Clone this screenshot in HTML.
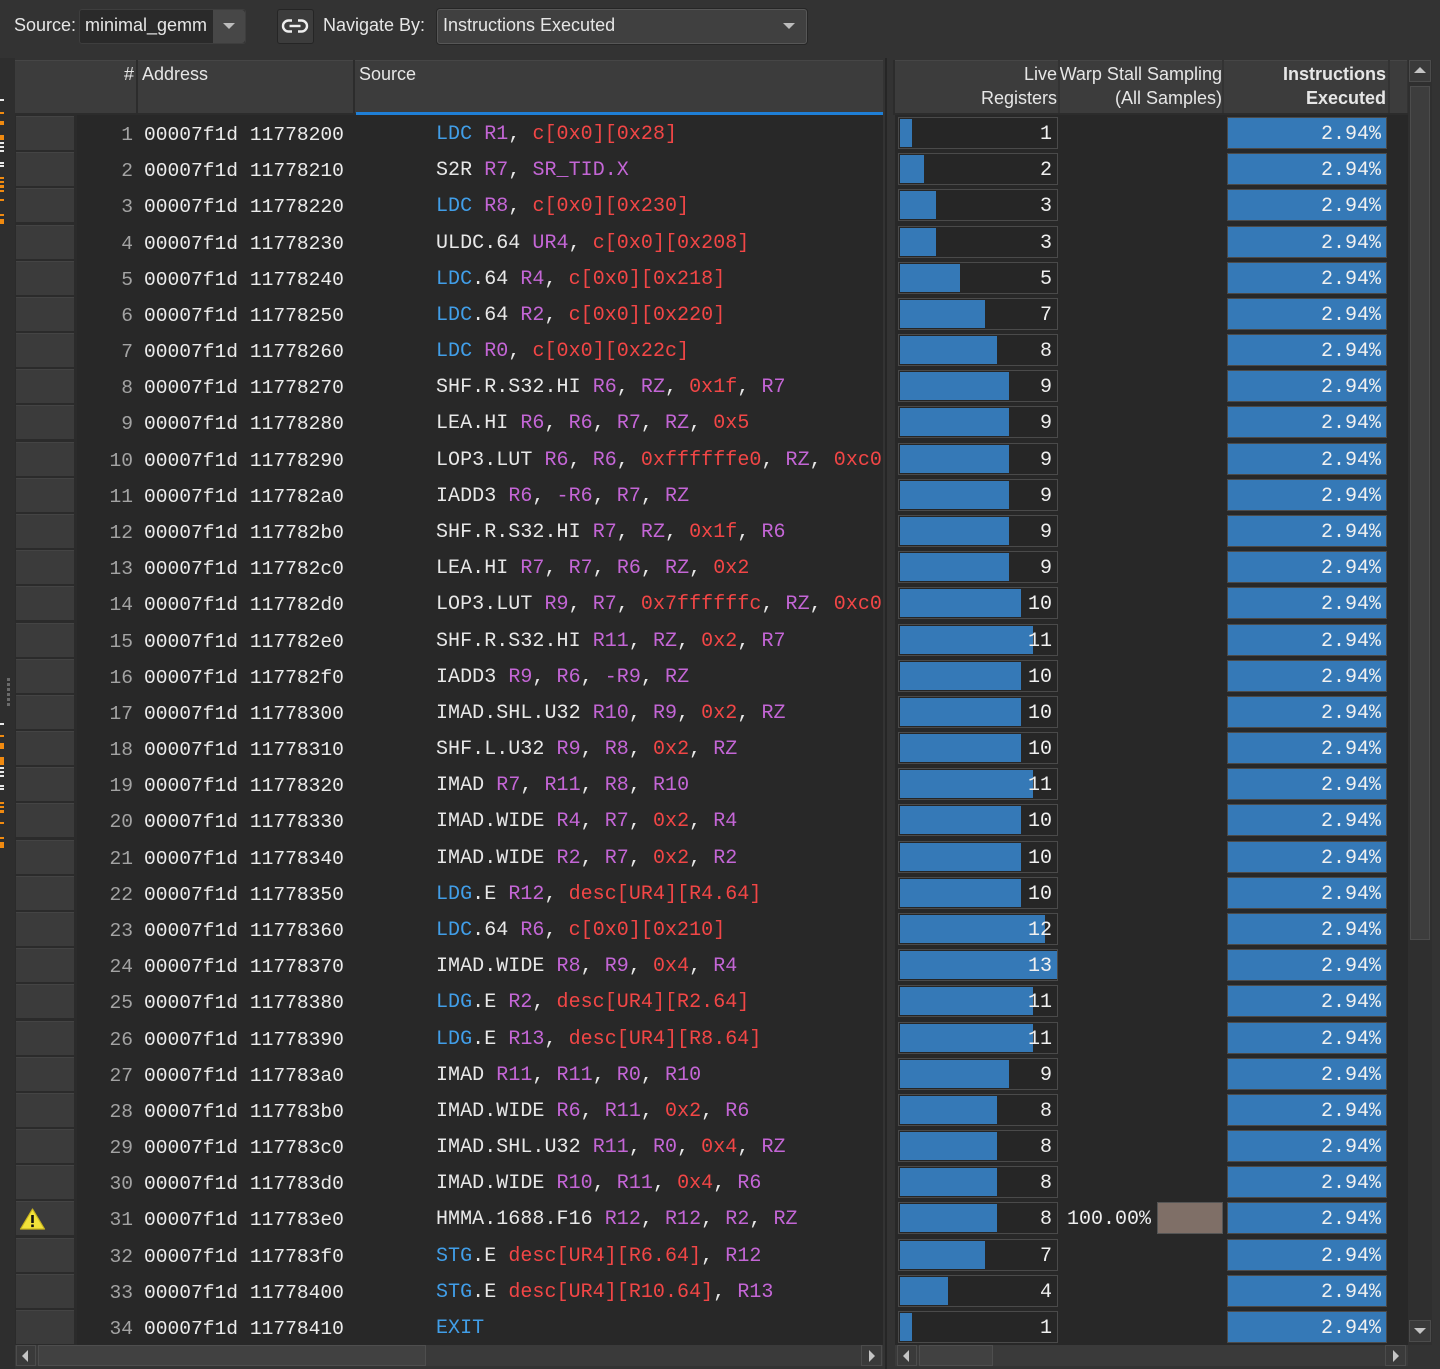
<!DOCTYPE html>
<html><head><meta charset="utf-8">
<style>
*{margin:0;padding:0;box-sizing:border-box}
html,body{width:1440px;height:1369px;overflow:hidden;background:#333333}
body{position:relative;font-family:"Liberation Sans",sans-serif;color:#e4e4e4}
.abs{position:absolute}
.ui{font-size:18px;line-height:22px;color:#e6e6e6;white-space:nowrap}
.mono{font-family:"Liberation Mono",monospace}
.row{position:absolute;left:0;width:100%;height:36.18px}
.vh{position:absolute;left:1px;top:1px;width:58px;height:34px;background:#3b3b3b;border-top:1px solid #444}
.n{position:absolute;left:60px;width:58px;text-align:right;top:2px;line-height:36px;font-family:"Liberation Mono",monospace;font-size:19.6px;color:#a3a3a3}
.a{position:absolute;left:129px;top:2px;line-height:36px;font-family:"Liberation Mono",monospace;font-size:19.6px;color:#ececec;white-space:pre}
.s{position:absolute;left:421px;top:2px;line-height:36px;font-family:"Liberation Mono",monospace;font-size:20px;letter-spacing:0.05px;color:#e8e8e8;white-space:pre}
.b{color:#419ee8}.p{color:#c466d6}.r{color:#f24646}
.lv{position:absolute;left:3px;top:2px;width:160px;height:32px;border:1px solid #4a4a4a;background:#262626}
.lv i{position:absolute;left:1px;top:1px;height:28px;background:#3579b7}
.lv span,.ie span{position:absolute;right:5px;top:0px;line-height:34px;font-family:"Liberation Mono",monospace;font-size:20px;color:#f0f0f0}
.ie{position:absolute;left:332px;top:2px;width:160px;height:32px;border:1px solid #4a4a4a;background:#3579b7}
.hd{position:absolute;top:60px;height:53px;background:#3c3c3c;border-top:1px solid #464646}
.mk{position:absolute;left:0;width:4px}
.o{background:#f08a10}.w{background:#e8e8e8}
.btn{position:absolute;background:#3a3a3a;border:1px solid #4c4c4c}
</style></head><body>

<!-- toolbar -->
<div class="abs ui" style="left:14px;top:14px">Source:</div>
<div class="abs" style="left:79px;top:9px;width:167px;height:35px;background:#2a2a2a;border:1px solid #3e3e3e;border-radius:3px"></div>
<div class="abs ui" style="left:85px;top:14px">minimal_gemm</div>
<div class="abs" style="left:213px;top:10px;width:32px;height:33px;background:#474747;border-radius:0 3px 3px 0"></div>
<div class="abs" style="left:223px;top:23px;width:0;height:0;border-left:6px solid transparent;border-right:6px solid transparent;border-top:6px solid #bcbcbc"></div>

<div class="abs" style="left:277px;top:9px;width:37px;height:35px;background:#3c3c3c;border:1px solid #252525;border-radius:3px"></div>
<svg class="abs" style="left:281px;top:14px" width="28" height="24" viewBox="0 0 28 24">
<path d="M11 6.5H7.5a5.5 5.5 0 0 0 0 11H11" fill="none" stroke="#eeeeee" stroke-width="2.4"/>
<path d="M17 6.5h3.5a5.5 5.5 0 0 1 0 11H17" fill="none" stroke="#eeeeee" stroke-width="2.4"/>
<path d="M8.5 12h11" stroke="#eeeeee" stroke-width="2.4"/>
</svg>
<div class="abs ui" style="left:323px;top:14px">Navigate By:</div>
<div class="abs" style="left:437px;top:9px;width:370px;height:35px;background:#404040;border:1px solid #575757;border-radius:3px;box-shadow:0 0 0 1px #262626"></div>
<div class="abs ui" style="left:443px;top:14px">Instructions Executed</div>
<div class="abs" style="left:783px;top:23px;width:0;height:0;border-left:6px solid transparent;border-right:6px solid transparent;border-top:6px solid #bcbcbc"></div>

<!-- left strip -->
<div class="abs" style="left:0;top:58px;width:15px;height:1311px;background:#2e2e2e"></div>
<div class="mk w" style="top:99px;height:2px"></div>
<div class="mk o" style="top:112px;height:2px"></div>
<div class="mk o" style="top:121px;height:4px"></div>
<div class="mk o" style="top:135px;height:5px"></div>
<div class="mk w" style="top:142px;height:2px"></div>
<div class="mk w" style="top:146px;height:2px"></div>
<div class="mk w" style="top:150px;height:2px"></div>
<div class="mk w" style="top:162px;height:2px"></div>
<div class="mk w" style="top:165px;height:2px"></div>
<div class="mk o" style="top:177px;height:2px"></div>
<div class="mk o" style="top:181px;height:2px"></div>
<div class="mk o" style="top:185px;height:3px"></div>
<div class="mk o" style="top:190px;height:2px"></div>
<div class="mk o" style="top:199px;height:2px"></div>
<div class="mk o" style="top:214px;height:2px"></div>
<div class="mk o" style="top:219px;height:5px"></div>
<div class="abs" style="left:7px;top:678px;width:3px;height:28px;background:repeating-linear-gradient(#6a6a6a 0 3px,transparent 3px 5px)"></div>
<div class="mk w" style="top:723px;height:2px"></div>
<div class="mk o" style="top:735px;height:2px"></div>
<div class="mk o" style="top:743px;height:6px"></div>
<div class="mk o" style="top:757px;height:8px"></div>
<div class="mk w" style="top:767px;height:2px"></div>
<div class="mk w" style="top:771px;height:2px"></div>
<div class="mk w" style="top:775px;height:2px"></div>
<div class="mk w" style="top:785px;height:2px"></div>
<div class="mk w" style="top:788px;height:2px"></div>
<div class="mk o" style="top:802px;height:2px"></div>
<div class="mk o" style="top:806px;height:2px"></div>
<div class="mk o" style="top:810px;height:3px"></div>
<div class="mk o" style="top:822px;height:2px"></div>
<div class="mk o" style="top:837px;height:2px"></div>
<div class="mk o" style="top:842px;height:6px"></div>

<!-- left header -->
<div class="hd" style="left:15px;width:121px"></div>
<div class="hd" style="left:138px;width:215px"></div>
<div class="hd" style="left:355px;width:528px"></div>
<div class="abs" style="left:136px;top:60px;width:2px;height:53px;background:#2c2c2c"></div>
<div class="abs" style="left:353px;top:60px;width:2px;height:53px;background:#2c2c2c"></div>
<div class="abs ui" style="left:124px;top:63px">#</div>
<div class="abs ui" style="left:142px;top:63px">Address</div>
<div class="abs ui" style="left:359px;top:63px">Source</div>
<div class="abs" style="left:356px;top:112px;width:527px;height:3px;background:#1f7fd6"></div>
<div class="abs" style="left:15px;top:113px;width:341px;height:2px;background:#2c2c2c"></div>

<!-- splitter -->
<div class="abs" style="left:883px;top:58px;width:10px;height:1311px;background:#333"></div>
<div class="abs" style="left:885px;top:58px;width:2px;height:1311px;background:#262626"></div>

<!-- right header -->
<div class="hd" style="left:895px;width:163px"></div>
<div class="hd" style="left:1060px;width:162px"></div>
<div class="hd" style="left:1224px;width:164px"></div>
<div class="hd" style="left:1390px;width:17px"></div>
<div class="abs" style="left:893px;top:60px;width:2px;height:55px;background:#2c2c2c"></div>
<div class="abs" style="left:893px;top:113px;width:515px;height:2px;background:#2c2c2c"></div>
<div class="abs ui" style="left:895px;top:63px;width:162px;text-align:right">Live</div>
<div class="abs ui" style="left:895px;top:87px;width:162px;text-align:right">Registers</div>
<div class="abs" style="left:1060px;top:63px;width:162px;height:22px;overflow:hidden"><div class="abs ui" style="right:0;top:0">Warp Stall Sampling</div></div>
<div class="abs ui" style="left:1060px;top:87px;width:162px;text-align:right">(All Samples)</div>
<div class="abs ui" style="left:1224px;top:63px;width:162px;text-align:right;font-weight:bold">Instructions</div>
<div class="abs ui" style="left:1224px;top:87px;width:162px;text-align:right;font-weight:bold">Executed</div>

<!-- left body -->
<div class="abs" style="left:15px;top:115px;width:868px;height:1230px;overflow:hidden;background:#282828">
<div class="abs" style="left:0;top:0;width:62px;height:1230px;background:#2b2b2b"></div>
<div class="row" style="top:0px"><div class="vh"></div><span class="n">1</span><span class="a">00007f1d 11778200</span><span class="s"><span class="b">LDC</span> <span class="p">R1</span>, <span class="r">c[0x0][0x28]</span></span></div>
<div class="row" style="top:36.18px"><div class="vh"></div><span class="n">2</span><span class="a">00007f1d 11778210</span><span class="s">S2R <span class="p">R7</span>, <span class="p">SR_TID.X</span></span></div>
<div class="row" style="top:72.36px"><div class="vh"></div><span class="n">3</span><span class="a">00007f1d 11778220</span><span class="s"><span class="b">LDC</span> <span class="p">R8</span>, <span class="r">c[0x0][0x230]</span></span></div>
<div class="row" style="top:108.54px"><div class="vh"></div><span class="n">4</span><span class="a">00007f1d 11778230</span><span class="s">ULDC.64 <span class="p">UR4</span>, <span class="r">c[0x0][0x208]</span></span></div>
<div class="row" style="top:144.72px"><div class="vh"></div><span class="n">5</span><span class="a">00007f1d 11778240</span><span class="s"><span class="b">LDC</span>.64 <span class="p">R4</span>, <span class="r">c[0x0][0x218]</span></span></div>
<div class="row" style="top:180.9px"><div class="vh"></div><span class="n">6</span><span class="a">00007f1d 11778250</span><span class="s"><span class="b">LDC</span>.64 <span class="p">R2</span>, <span class="r">c[0x0][0x220]</span></span></div>
<div class="row" style="top:217.08px"><div class="vh"></div><span class="n">7</span><span class="a">00007f1d 11778260</span><span class="s"><span class="b">LDC</span> <span class="p">R0</span>, <span class="r">c[0x0][0x22c]</span></span></div>
<div class="row" style="top:253.26px"><div class="vh"></div><span class="n">8</span><span class="a">00007f1d 11778270</span><span class="s">SHF.R.S32.HI <span class="p">R6</span>, <span class="p">RZ</span>, <span class="r">0x1f</span>, <span class="p">R7</span></span></div>
<div class="row" style="top:289.44px"><div class="vh"></div><span class="n">9</span><span class="a">00007f1d 11778280</span><span class="s">LEA.HI <span class="p">R6</span>, <span class="p">R6</span>, <span class="p">R7</span>, <span class="p">RZ</span>, <span class="r">0x5</span></span></div>
<div class="row" style="top:325.62px"><div class="vh"></div><span class="n">10</span><span class="a">00007f1d 11778290</span><span class="s">LOP3.LUT <span class="p">R6</span>, <span class="p">R6</span>, <span class="r">0xffffffe0</span>, <span class="p">RZ</span>, <span class="r">0xc0</span></span></div>
<div class="row" style="top:361.8px"><div class="vh"></div><span class="n">11</span><span class="a">00007f1d 117782a0</span><span class="s">IADD3 <span class="p">R6</span>, <span class="p">-R6</span>, <span class="p">R7</span>, <span class="p">RZ</span></span></div>
<div class="row" style="top:397.98px"><div class="vh"></div><span class="n">12</span><span class="a">00007f1d 117782b0</span><span class="s">SHF.R.S32.HI <span class="p">R7</span>, <span class="p">RZ</span>, <span class="r">0x1f</span>, <span class="p">R6</span></span></div>
<div class="row" style="top:434.16px"><div class="vh"></div><span class="n">13</span><span class="a">00007f1d 117782c0</span><span class="s">LEA.HI <span class="p">R7</span>, <span class="p">R7</span>, <span class="p">R6</span>, <span class="p">RZ</span>, <span class="r">0x2</span></span></div>
<div class="row" style="top:470.34px"><div class="vh"></div><span class="n">14</span><span class="a">00007f1d 117782d0</span><span class="s">LOP3.LUT <span class="p">R9</span>, <span class="p">R7</span>, <span class="r">0x7ffffffc</span>, <span class="p">RZ</span>, <span class="r">0xc0</span></span></div>
<div class="row" style="top:506.52px"><div class="vh"></div><span class="n">15</span><span class="a">00007f1d 117782e0</span><span class="s">SHF.R.S32.HI <span class="p">R11</span>, <span class="p">RZ</span>, <span class="r">0x2</span>, <span class="p">R7</span></span></div>
<div class="row" style="top:542.7px"><div class="vh"></div><span class="n">16</span><span class="a">00007f1d 117782f0</span><span class="s">IADD3 <span class="p">R9</span>, <span class="p">R6</span>, <span class="p">-R9</span>, <span class="p">RZ</span></span></div>
<div class="row" style="top:578.88px"><div class="vh"></div><span class="n">17</span><span class="a">00007f1d 11778300</span><span class="s">IMAD.SHL.U32 <span class="p">R10</span>, <span class="p">R9</span>, <span class="r">0x2</span>, <span class="p">RZ</span></span></div>
<div class="row" style="top:615.06px"><div class="vh"></div><span class="n">18</span><span class="a">00007f1d 11778310</span><span class="s">SHF.L.U32 <span class="p">R9</span>, <span class="p">R8</span>, <span class="r">0x2</span>, <span class="p">RZ</span></span></div>
<div class="row" style="top:651.24px"><div class="vh"></div><span class="n">19</span><span class="a">00007f1d 11778320</span><span class="s">IMAD <span class="p">R7</span>, <span class="p">R11</span>, <span class="p">R8</span>, <span class="p">R10</span></span></div>
<div class="row" style="top:687.42px"><div class="vh"></div><span class="n">20</span><span class="a">00007f1d 11778330</span><span class="s">IMAD.WIDE <span class="p">R4</span>, <span class="p">R7</span>, <span class="r">0x2</span>, <span class="p">R4</span></span></div>
<div class="row" style="top:723.6px"><div class="vh"></div><span class="n">21</span><span class="a">00007f1d 11778340</span><span class="s">IMAD.WIDE <span class="p">R2</span>, <span class="p">R7</span>, <span class="r">0x2</span>, <span class="p">R2</span></span></div>
<div class="row" style="top:759.78px"><div class="vh"></div><span class="n">22</span><span class="a">00007f1d 11778350</span><span class="s"><span class="b">LDG</span>.E <span class="p">R12</span>, <span class="r">desc[UR4][R4.64]</span></span></div>
<div class="row" style="top:795.96px"><div class="vh"></div><span class="n">23</span><span class="a">00007f1d 11778360</span><span class="s"><span class="b">LDC</span>.64 <span class="p">R6</span>, <span class="r">c[0x0][0x210]</span></span></div>
<div class="row" style="top:832.14px"><div class="vh"></div><span class="n">24</span><span class="a">00007f1d 11778370</span><span class="s">IMAD.WIDE <span class="p">R8</span>, <span class="p">R9</span>, <span class="r">0x4</span>, <span class="p">R4</span></span></div>
<div class="row" style="top:868.32px"><div class="vh"></div><span class="n">25</span><span class="a">00007f1d 11778380</span><span class="s"><span class="b">LDG</span>.E <span class="p">R2</span>, <span class="r">desc[UR4][R2.64]</span></span></div>
<div class="row" style="top:904.5px"><div class="vh"></div><span class="n">26</span><span class="a">00007f1d 11778390</span><span class="s"><span class="b">LDG</span>.E <span class="p">R13</span>, <span class="r">desc[UR4][R8.64]</span></span></div>
<div class="row" style="top:940.68px"><div class="vh"></div><span class="n">27</span><span class="a">00007f1d 117783a0</span><span class="s">IMAD <span class="p">R11</span>, <span class="p">R11</span>, <span class="p">R0</span>, <span class="p">R10</span></span></div>
<div class="row" style="top:976.86px"><div class="vh"></div><span class="n">28</span><span class="a">00007f1d 117783b0</span><span class="s">IMAD.WIDE <span class="p">R6</span>, <span class="p">R11</span>, <span class="r">0x2</span>, <span class="p">R6</span></span></div>
<div class="row" style="top:1013.04px"><div class="vh"></div><span class="n">29</span><span class="a">00007f1d 117783c0</span><span class="s">IMAD.SHL.U32 <span class="p">R11</span>, <span class="p">R0</span>, <span class="r">0x4</span>, <span class="p">RZ</span></span></div>
<div class="row" style="top:1049.22px"><div class="vh"></div><span class="n">30</span><span class="a">00007f1d 117783d0</span><span class="s">IMAD.WIDE <span class="p">R10</span>, <span class="p">R11</span>, <span class="r">0x4</span>, <span class="p">R6</span></span></div>
<div class="row" style="top:1085.4px"><div class="vh"><svg style="position:absolute;left:3px;top:5px" width="27" height="24" viewBox="0 0 27 24"><path d="M13.5 2 L25.5 22 H1.5 Z" fill="#f2e23a" stroke="#c9b41e" stroke-width="1.2" stroke-linejoin="round"/><rect x="12.2" y="8" width="2.6" height="8" fill="#111"/><rect x="12.2" y="17.5" width="2.6" height="2.6" fill="#111"/></svg></div><span class="n">31</span><span class="a">00007f1d 117783e0</span><span class="s">HMMA.1688.F16 <span class="p">R12</span>, <span class="p">R12</span>, <span class="p">R2</span>, <span class="p">RZ</span></span></div>
<div class="row" style="top:1121.58px"><div class="vh"></div><span class="n">32</span><span class="a">00007f1d 117783f0</span><span class="s"><span class="b">STG</span>.E <span class="r">desc[UR4][R6.64]</span>, <span class="p">R12</span></span></div>
<div class="row" style="top:1157.76px"><div class="vh"></div><span class="n">33</span><span class="a">00007f1d 11778400</span><span class="s"><span class="b">STG</span>.E <span class="r">desc[UR4][R10.64]</span>, <span class="p">R13</span></span></div>
<div class="row" style="top:1193.94px"><div class="vh"></div><span class="n">34</span><span class="a">00007f1d 11778410</span><span class="s"><span class="b">EXIT</span></span></div>
</div>

<!-- right body -->
<div class="abs" style="left:895px;top:115px;width:513px;height:1230px;overflow:hidden;background:#282828">
<div class="row" style="top:0px"><div class="lv"><i style="width:12px"></i><span>1</span></div><div class="ie"><span>2.94%</span></div></div>
<div class="row" style="top:36.18px"><div class="lv"><i style="width:24px"></i><span>2</span></div><div class="ie"><span>2.94%</span></div></div>
<div class="row" style="top:72.36px"><div class="lv"><i style="width:36px"></i><span>3</span></div><div class="ie"><span>2.94%</span></div></div>
<div class="row" style="top:108.54px"><div class="lv"><i style="width:36px"></i><span>3</span></div><div class="ie"><span>2.94%</span></div></div>
<div class="row" style="top:144.72px"><div class="lv"><i style="width:60px"></i><span>5</span></div><div class="ie"><span>2.94%</span></div></div>
<div class="row" style="top:180.9px"><div class="lv"><i style="width:85px"></i><span>7</span></div><div class="ie"><span>2.94%</span></div></div>
<div class="row" style="top:217.08px"><div class="lv"><i style="width:97px"></i><span>8</span></div><div class="ie"><span>2.94%</span></div></div>
<div class="row" style="top:253.26px"><div class="lv"><i style="width:109px"></i><span>9</span></div><div class="ie"><span>2.94%</span></div></div>
<div class="row" style="top:289.44px"><div class="lv"><i style="width:109px"></i><span>9</span></div><div class="ie"><span>2.94%</span></div></div>
<div class="row" style="top:325.62px"><div class="lv"><i style="width:109px"></i><span>9</span></div><div class="ie"><span>2.94%</span></div></div>
<div class="row" style="top:361.8px"><div class="lv"><i style="width:109px"></i><span>9</span></div><div class="ie"><span>2.94%</span></div></div>
<div class="row" style="top:397.98px"><div class="lv"><i style="width:109px"></i><span>9</span></div><div class="ie"><span>2.94%</span></div></div>
<div class="row" style="top:434.16px"><div class="lv"><i style="width:109px"></i><span>9</span></div><div class="ie"><span>2.94%</span></div></div>
<div class="row" style="top:470.34px"><div class="lv"><i style="width:121px"></i><span>10</span></div><div class="ie"><span>2.94%</span></div></div>
<div class="row" style="top:506.52px"><div class="lv"><i style="width:133px"></i><span>11</span></div><div class="ie"><span>2.94%</span></div></div>
<div class="row" style="top:542.7px"><div class="lv"><i style="width:121px"></i><span>10</span></div><div class="ie"><span>2.94%</span></div></div>
<div class="row" style="top:578.88px"><div class="lv"><i style="width:121px"></i><span>10</span></div><div class="ie"><span>2.94%</span></div></div>
<div class="row" style="top:615.06px"><div class="lv"><i style="width:121px"></i><span>10</span></div><div class="ie"><span>2.94%</span></div></div>
<div class="row" style="top:651.24px"><div class="lv"><i style="width:133px"></i><span>11</span></div><div class="ie"><span>2.94%</span></div></div>
<div class="row" style="top:687.42px"><div class="lv"><i style="width:121px"></i><span>10</span></div><div class="ie"><span>2.94%</span></div></div>
<div class="row" style="top:723.6px"><div class="lv"><i style="width:121px"></i><span>10</span></div><div class="ie"><span>2.94%</span></div></div>
<div class="row" style="top:759.78px"><div class="lv"><i style="width:121px"></i><span>10</span></div><div class="ie"><span>2.94%</span></div></div>
<div class="row" style="top:795.96px"><div class="lv"><i style="width:145px"></i><span>12</span></div><div class="ie"><span>2.94%</span></div></div>
<div class="row" style="top:832.14px"><div class="lv"><i style="width:157px"></i><span>13</span></div><div class="ie"><span>2.94%</span></div></div>
<div class="row" style="top:868.32px"><div class="lv"><i style="width:133px"></i><span>11</span></div><div class="ie"><span>2.94%</span></div></div>
<div class="row" style="top:904.5px"><div class="lv"><i style="width:133px"></i><span>11</span></div><div class="ie"><span>2.94%</span></div></div>
<div class="row" style="top:940.68px"><div class="lv"><i style="width:109px"></i><span>9</span></div><div class="ie"><span>2.94%</span></div></div>
<div class="row" style="top:976.86px"><div class="lv"><i style="width:97px"></i><span>8</span></div><div class="ie"><span>2.94%</span></div></div>
<div class="row" style="top:1013.04px"><div class="lv"><i style="width:97px"></i><span>8</span></div><div class="ie"><span>2.94%</span></div></div>
<div class="row" style="top:1049.22px"><div class="lv"><i style="width:97px"></i><span>8</span></div><div class="ie"><span>2.94%</span></div></div>
<div class="row" style="top:1085.4px"><div class="lv"><i style="width:97px"></i><span>8</span></div><span class="abs mono" style="left:172px;top:2px;line-height:36px;font-size:20px;color:#eeeeee">100.00%</span><div class="abs" style="left:262px;top:2px;width:66px;height:32px;background:#7f6f67;border:1px solid #555"></div><div class="ie"><span>2.94%</span></div></div>
<div class="row" style="top:1121.58px"><div class="lv"><i style="width:85px"></i><span>7</span></div><div class="ie"><span>2.94%</span></div></div>
<div class="row" style="top:1157.76px"><div class="lv"><i style="width:48px"></i><span>4</span></div><div class="ie"><span>2.94%</span></div></div>
<div class="row" style="top:1193.94px"><div class="lv"><i style="width:12px"></i><span>1</span></div><div class="ie"><span>2.94%</span></div></div>
</div>

<!-- vertical scrollbar -->
<div class="abs" style="left:1408px;top:60px;width:24px;height:1285px;background:#2f2f2f"></div>
<div class="btn" style="left:1409px;top:60px;width:22px;height:22px"></div>
<div class="abs" style="left:1414px;top:67px;width:0;height:0;border-left:6px solid transparent;border-right:6px solid transparent;border-bottom:6px solid #c4c4c4"></div>
<div class="abs" style="left:1410px;top:86px;width:20px;height:854px;background:#3d3d3d;border:1px solid #4c4c4c"></div>
<div class="btn" style="left:1409px;top:1320px;width:22px;height:22px"></div>
<div class="abs" style="left:1414px;top:1328px;width:0;height:0;border-left:6px solid transparent;border-right:6px solid transparent;border-top:6px solid #c4c4c4"></div>

<!-- horizontal scrollbars -->
<div class="abs" style="left:15px;top:1345px;width:868px;height:21px;background:#3a3a3a"></div>
<div class="btn" style="left:16px;top:1345px;width:20px;height:21px"></div>
<div class="abs" style="left:22px;top:1350px;width:0;height:0;border-top:6px solid transparent;border-bottom:6px solid transparent;border-right:6px solid #c4c4c4"></div>
<div class="abs" style="left:38px;top:1345px;width:388px;height:21px;background:#414141;border:1px solid #4e4e4e"></div>
<div class="btn" style="left:861px;top:1345px;width:21px;height:21px"></div>
<div class="abs" style="left:869px;top:1350px;width:0;height:0;border-top:6px solid transparent;border-bottom:6px solid transparent;border-left:6px solid #c4c4c4"></div>

<div class="abs" style="left:895px;top:1345px;width:513px;height:21px;background:#3a3a3a"></div>
<div class="btn" style="left:897px;top:1345px;width:20px;height:21px"></div>
<div class="abs" style="left:903px;top:1350px;width:0;height:0;border-top:6px solid transparent;border-bottom:6px solid transparent;border-right:6px solid #c4c4c4"></div>
<div class="abs" style="left:919px;top:1345px;width:74px;height:21px;background:#414141;border:1px solid #4e4e4e"></div>
<div class="btn" style="left:1385px;top:1345px;width:21px;height:21px"></div>
<div class="abs" style="left:1393px;top:1350px;width:0;height:0;border-top:6px solid transparent;border-bottom:6px solid transparent;border-left:6px solid #c4c4c4"></div>

</body></html>
